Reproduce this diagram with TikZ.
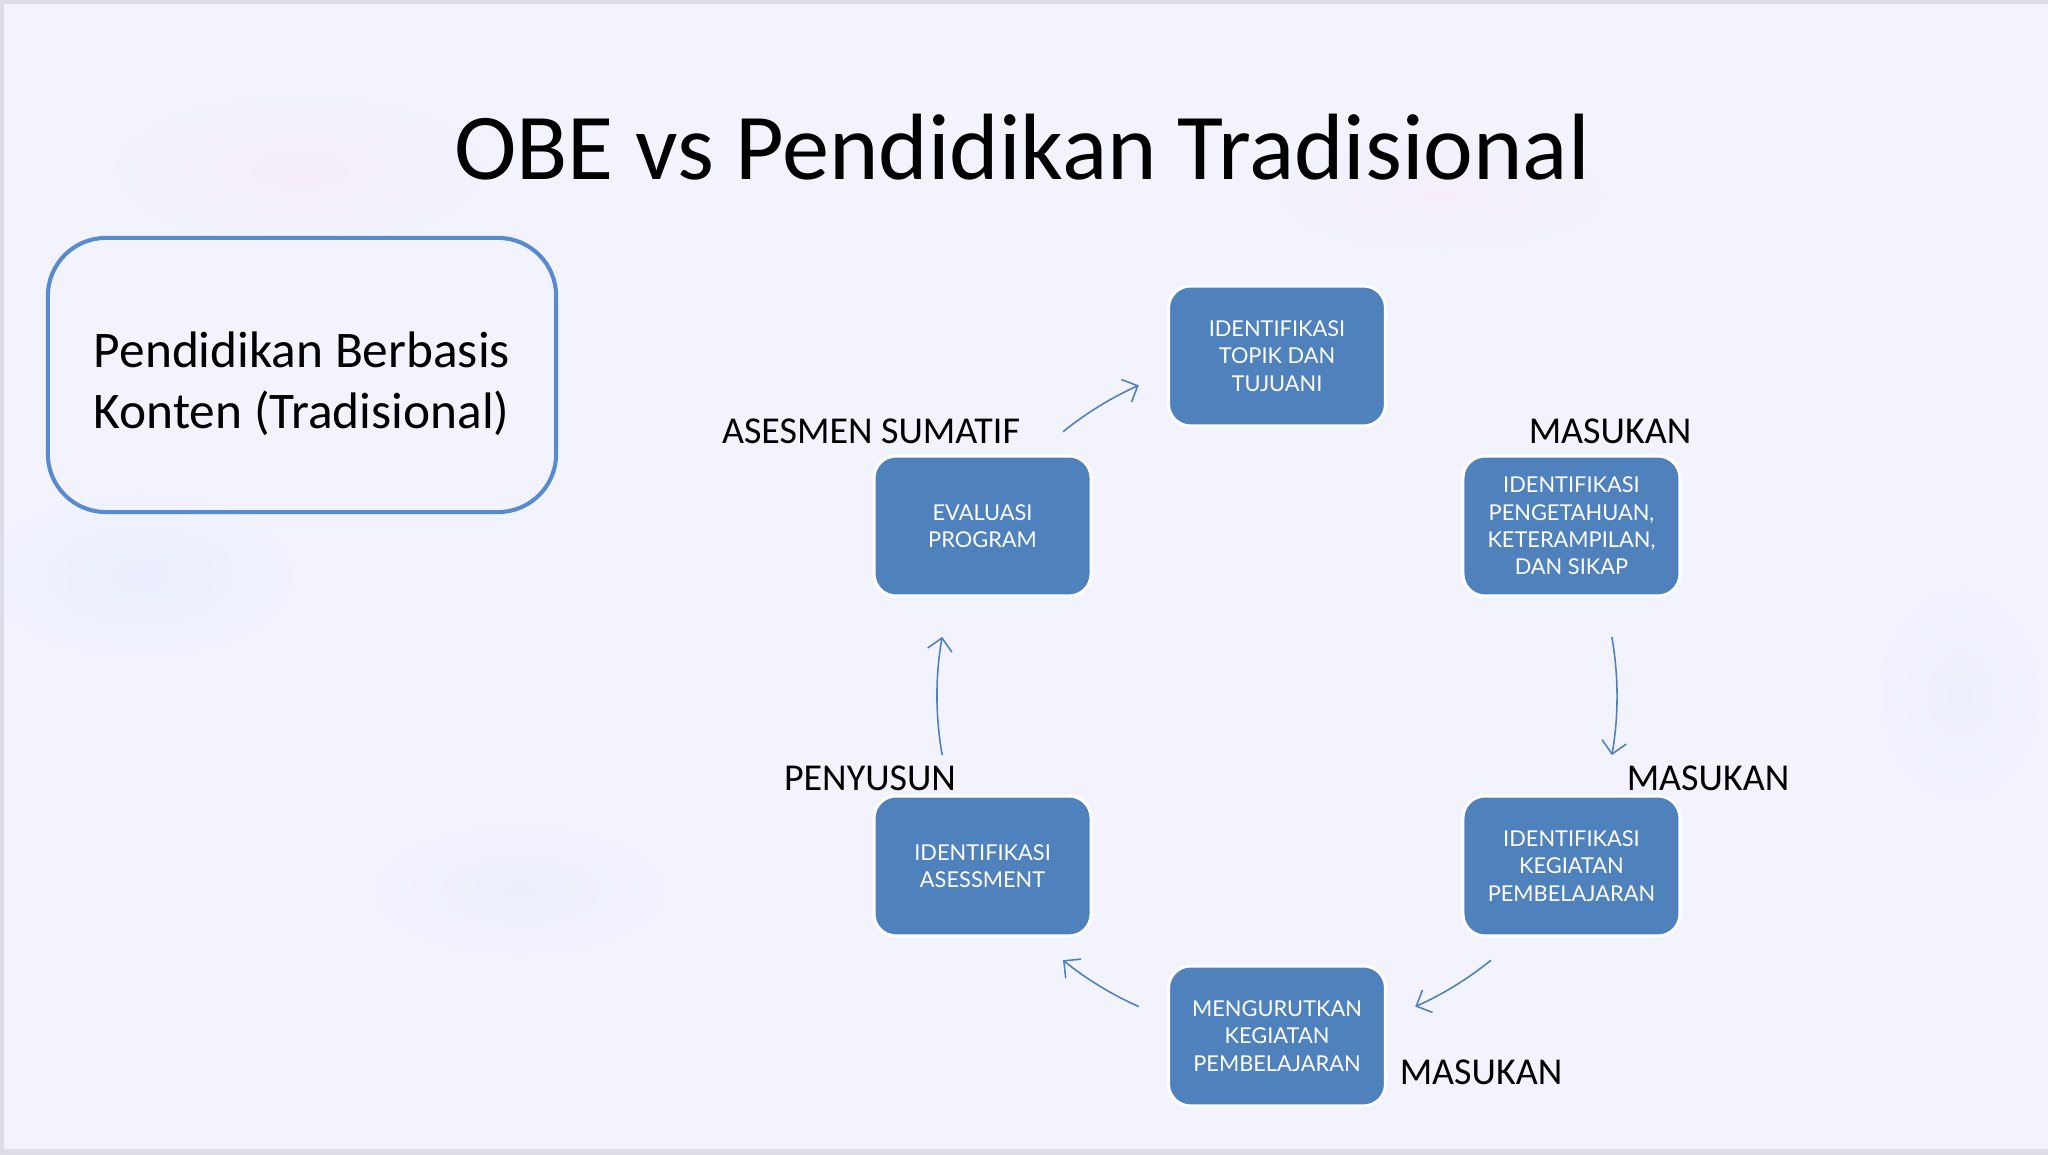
\documentclass[tikz,border=0pt]{standalone}
\usepackage{fontspec}
\setmainfont{Carlito}
\newfontfamily\boxfont{Lato}
\usetikzlibrary{arrows.meta}

\definecolor{framegray}{RGB}{221,221,231}
\definecolor{slidebg}{RGB}{242,243,253}
\definecolor{stepblue}{RGB}{79,129,189}
\definecolor{edgeblue}{RGB}{88,138,208}

\tikzset{
  stepbox/.style={draw=white, line width=0.9pt, fill=stepblue, rounded corners=0.22cm,
    minimum width=2.17cm, minimum height=1.40cm, inner sep=1pt, align=center,
    text=white, font=\boxfont\fontsize{6.2pt}{7.8pt}\selectfont},
  steplabel/.style={anchor=base, font=\fontsize{10.8pt}{13pt}\selectfont},
  cyc/.style={draw=stepblue, line width=0.45pt, -{Straight Barb[length=3.5pt,width=7pt]}},
  blob/.style={shading=radial, outer color=slidebg, draw=none}
}

\begin{document}
\begin{tikzpicture}[x=0.01cm, y=0.01cm]
\useasboundingbox (0,0) rectangle (2048,1155);
\fill[framegray] (0,0) rectangle (2048,1155);
\fill[slidebg] (4,6) rectangle (2048,1151);

% soft background blobs
\begin{scope}
\clip (4,6) rectangle (2048,1151);
\shade[blob, inner color={rgb,255:red,245;green,237;blue,249}] (300,985) ellipse (200 and 80);
\shade[blob, inner color={rgb,255:red,234;green,238;blue,252}] (140,580) ellipse (170 and 90);
\shade[blob, inner color={rgb,255:red,236;green,238;blue,252}] (520,265) ellipse (160 and 70);
\shade[blob, inner color={rgb,255:red,245;green,238;blue,250}] (1440,960) ellipse (180 and 60);
\shade[blob, inner color={rgb,255:red,237;green,239;blue,252}] (1960,460) ellipse (90 and 120);
\end{scope}

% title
\node[anchor=base, font=\fontsize{26.8pt}{32pt}\selectfont] (title) at (1022,975)
  {OBE vs Pendidikan Tradisional};

% left box
\node[draw=edgeblue, line width=1.15pt, rounded corners=0.58cm,
  minimum width=5.08cm, minimum height=2.74cm] (kontenbox) at (302,780) {};
\node[align=left, font=\fontsize{14.6pt}{17.4pt}\selectfont] (konten)
  at ([yshift=-0.09cm]kontenbox.center) {Pendidikan Berbasis\\Konten (Tradisional)};

% cycle
\coordinate (C) at (1277,459);

\node[stepbox] (topik) at ([shift={(90:340)}]C) {IDENTIFIKASI\\TOPIK DAN\\TUJUANI};
\node[stepbox] (pks) at ([shift={(30:340)}]C) {IDENTIFIKASI\\PENGETAHUAN,\\KETERAMPILAN,\\DAN SIKAP};
\node[stepbox] (kegiatan) at ([shift={(-30:340)}]C) {IDENTIFIKASI\\KEGIATAN\\PEMBELAJARAN};
\node[stepbox] (urutan) at ([shift={(-90:340)}]C) {MENGURUTKAN\\KEGIATAN\\PEMBELAJARAN};
\node[stepbox] (asesmen) at ([shift={(-150:340)}]C) {IDENTIFIKASI\\ASESSMENT};
\node[stepbox] (evaluasi) at ([shift={(150:340)}]C) {EVALUASI\\PROGRAM};

% arrows
\coordinate (a1) at ([shift={(129:340)}]C);
\coordinate (a2) at ([shift={(10:340)}]C);
\coordinate (a3) at ([shift={(-51:340)}]C);
\coordinate (a4) at ([shift={(-114:340)}]C);
\coordinate (a5) at ([shift={(190:340)}]C);

\draw[cyc] (a1) arc[start angle=129, end angle=114, radius=3.4cm];
\draw[cyc] (a2) arc[start angle=10, end angle=-10, radius=3.4cm];
\draw[cyc] (a3) arc[start angle=-51, end angle=-66, radius=3.4cm];
\draw[cyc] (a4) arc[start angle=-114, end angle=-129, radius=3.4cm];
\draw[cyc] (a5) arc[start angle=190, end angle=170, radius=3.4cm];

% labels
\node[steplabel] (sumatif) at (871,711) {ASESMEN SUMATIF};
\node[steplabel] (masukan1) at (1610,711) {MASUKAN};
\node[steplabel] (masukan2) at (1708,364) {MASUKAN};
\node[steplabel] (penyusun) at (870,364) {PENYUSUN};
\node[steplabel] (masukan3) at (1481,70) {MASUKAN};
\end{tikzpicture}
\end{document}
